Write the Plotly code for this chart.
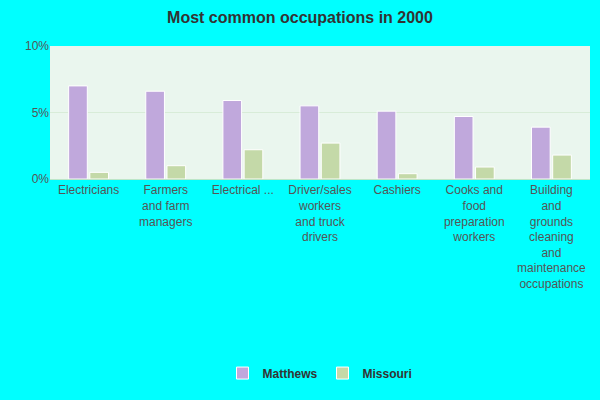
import plotly.graph_objects as go

categories = ["Electricians", "Farmers<br>and farm<br>managers", "Electrical ...", "Driver/sales<br>workers<br>and truck<br>drivers", "Cashiers", "Cooks and<br>food<br>preparation<br>workers", "Building<br>and<br>grounds<br>cleaning<br>and<br>maintenance<br>occupations"]
matthews = [7.0, 6.6, 5.9, 5.5, 5.1, 4.7, 3.9]
missouri = [0.5, 1.0, 2.2, 2.7, 0.4, 0.9, 1.8]

fig = go.Figure()
fig.add_bar(x=categories, y=matthews, name="<b>Matthews</b>", marker=dict(color="#c0a8dc", line=dict(color="white", width=1)))
fig.add_bar(x=categories, y=missouri, name="<b>Missouri</b>", marker=dict(color="#c4d9a8", line=dict(color="white", width=1)))
fig.update_layout(
    width=600, height=400,
    paper_bgcolor="#00ffff", plot_bgcolor="#eaf6ee",
    title=dict(text="<b>Most common occupations in 2000</b>", x=0.5, y=0.97, xanchor="center", font=dict(family="Arial", size=16, color="#333")),
    margin=dict(l=50, r=10, t=46, b=221),
    barmode="group", bargap=0.45, bargroupgap=0.12,
    font=dict(family="Arial", size=12, color="#555"),
    legend=dict(orientation="h", x=0.5, xanchor="center", y=-1.35, font=dict(size=12, color="#333"), itemwidth=30),
    showlegend=True,
)
fig.update_yaxes(range=[0, 10], tickvals=[0, 5, 10], ticktext=["0%", "5%", "10%"], gridcolor="#d8ecd8", zeroline=False, ticks="")
fig.update_xaxes(showline=True, linecolor="#bde6c8", tickangle=0, ticks="outside", ticklen=0)
fig.write_html("out.html", config={"displayModeBar": False}, post_script="document.body.style.margin='0';document.body.style.overflow='hidden';")
